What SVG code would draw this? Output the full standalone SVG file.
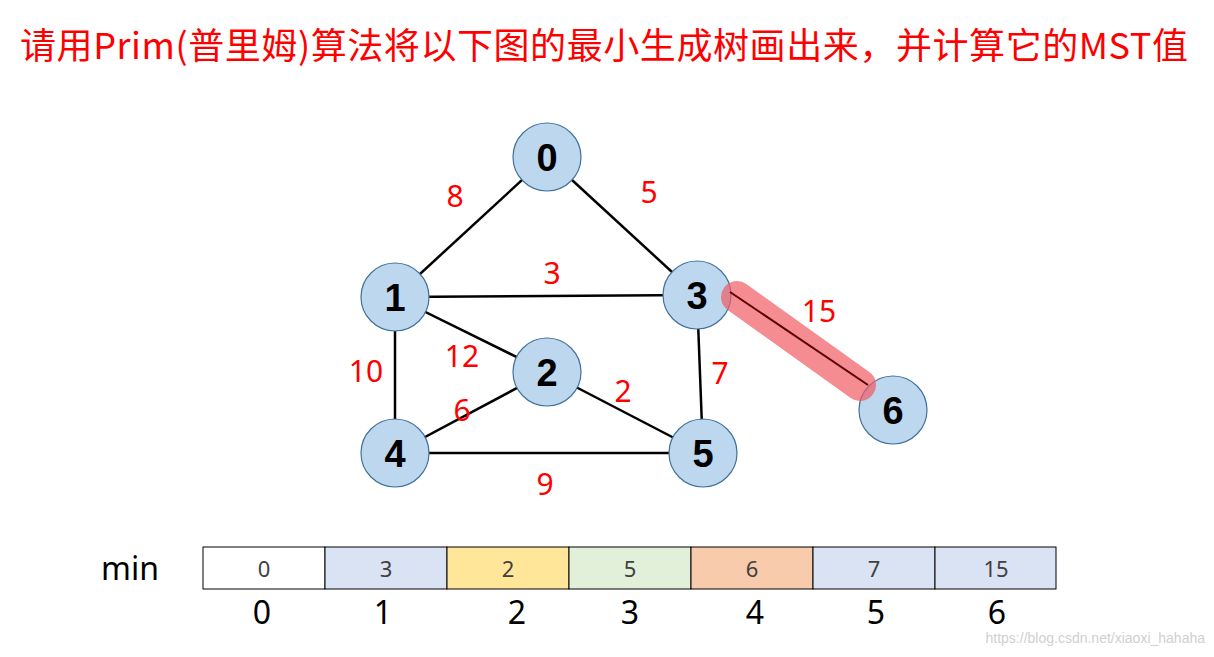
<svg xmlns="http://www.w3.org/2000/svg" width="1214" height="657" viewBox="0 0 1214 657">
<style>
.n{fill:#bdd7ee;stroke:#41719c;stroke-width:1.2}
.nt{font-family:"Liberation Sans",Arial,sans-serif;font-weight:bold;font-size:38px;text-anchor:middle;fill:#000}
.e{stroke:#000;stroke-width:2.5}
.w{font-family:"Noto Sans","Liberation Sans",sans-serif;font-size:30px;fill:#f00;text-anchor:middle}
.c{stroke:#000;stroke-width:1}
.ct{font-family:"Noto Sans","Liberation Sans",sans-serif;font-size:22px;fill:#404040;text-anchor:middle}
.ix{font-family:"Noto Sans","Liberation Sans",sans-serif;font-size:32px;fill:#000;text-anchor:middle}
</style>
<rect width="1214" height="657" fill="#fff"/>
<text x="20" y="59" font-family="'Noto Sans CJK SC','Noto Sans',sans-serif" font-size="36" fill="#f00" textLength="1168">请用Prim(普里姆)算法将以下图的最小生成树画出来，并计算它的MST值</text>
<g id="connectors">
<line class="e" x1="547" y1="157" x2="395" y2="297"/>
<line class="e" x1="547" y1="157" x2="697" y2="295"/>
<line class="e" x1="395" y1="297" x2="697" y2="295"/>
<line class="e" x1="395" y1="297" x2="547" y2="372"/>
<line class="e" x1="395" y1="297" x2="395" y2="453"/>
<line class="e" x1="547" y1="372" x2="395" y2="453"/>
<line class="e" x1="547" y1="372" x2="703" y2="453"/>
<line class="e" x1="697" y1="295" x2="703" y2="453"/>
<line class="e" x1="395" y1="453" x2="703" y2="453"/>
<text class="w" x="455" y="207">8</text>
<text class="w" x="649" y="203">5</text>
<text class="w" x="552" y="284">3</text>
<text class="w" x="819" y="322">15</text>
<text class="w" x="462" y="367">12</text>
<text class="w" x="366" y="382">10</text>
<text class="w" x="720" y="384">7</text>
<text class="w" x="462" y="421">6</text>
<text class="w" x="623" y="402">2</text>
<text class="w" x="545" y="495">9</text>
</g>
<g id="node0"><circle class="n" cx="547" cy="157" r="34"/><text class="nt" x="547" y="171">0</text></g>
<g id="node1"><circle class="n" cx="395" cy="297" r="34"/><text class="nt" x="395" y="311">1</text></g>
<g id="node2"><circle class="n" cx="547" cy="372" r="34"/><text class="nt" x="547" y="386">2</text></g>
<g id="node3"><circle class="n" cx="697" cy="295" r="34"/><text class="nt" x="697" y="309">3</text></g>
<g id="node4"><circle class="n" cx="395" cy="453" r="34"/><text class="nt" x="395" y="467">4</text></g>
<g id="node5"><circle class="n" cx="703" cy="453" r="34"/><text class="nt" x="703" y="467">5</text></g>
<g id="node6"><circle class="n" cx="893" cy="410" r="34"/><text class="nt" x="893" y="424">6</text></g>
<g id="highlight">
<line x1="737" y1="297" x2="860" y2="385" stroke="#ef5b63" stroke-opacity="0.7" stroke-width="32" stroke-linecap="round"/>
<line x1="730" y1="292" x2="868" y2="385" stroke="#5a0000" stroke-width="2"/>
</g>
<g id="table">
<text x="130" y="580" font-family="'Noto Sans','Liberation Sans',sans-serif" font-size="32" text-anchor="middle">min</text>
<rect class="c" x="203" y="547" width="122" height="42" fill="#fff"/>
<rect class="c" x="325" y="547" width="122" height="42" fill="#dae3f3"/>
<rect class="c" x="447" y="547" width="122" height="42" fill="#ffe699"/>
<rect class="c" x="569" y="547" width="122" height="42" fill="#e2f0d9"/>
<rect class="c" x="691" y="547" width="122" height="42" fill="#f8cbad"/>
<rect class="c" x="813" y="547" width="122" height="42" fill="#dae3f3"/>
<rect class="c" x="935" y="547" width="121" height="42" fill="#dae3f3"/>
<text class="ct" x="264" y="577">0</text><text class="ct" x="386" y="577">3</text><text class="ct" x="508" y="577">2</text><text class="ct" x="630" y="577">5</text><text class="ct" x="752" y="577">6</text><text class="ct" x="874" y="577">7</text><text class="ct" x="996" y="577">15</text>
<text class="ix" x="262" y="624">0</text><text class="ix" x="383" y="624">1</text><text class="ix" x="517" y="624">2</text><text class="ix" x="630" y="624">3</text><text class="ix" x="755" y="624">4</text><text class="ix" x="876" y="624">5</text><text class="ix" x="997" y="624">6</text>
</g>
<text x="1205" y="643" text-anchor="end" font-family="'Liberation Sans',sans-serif" font-size="14" fill="#d0d0d0">https://blog.csdn.net/xiaoxi_hahaha</text>
</svg>
